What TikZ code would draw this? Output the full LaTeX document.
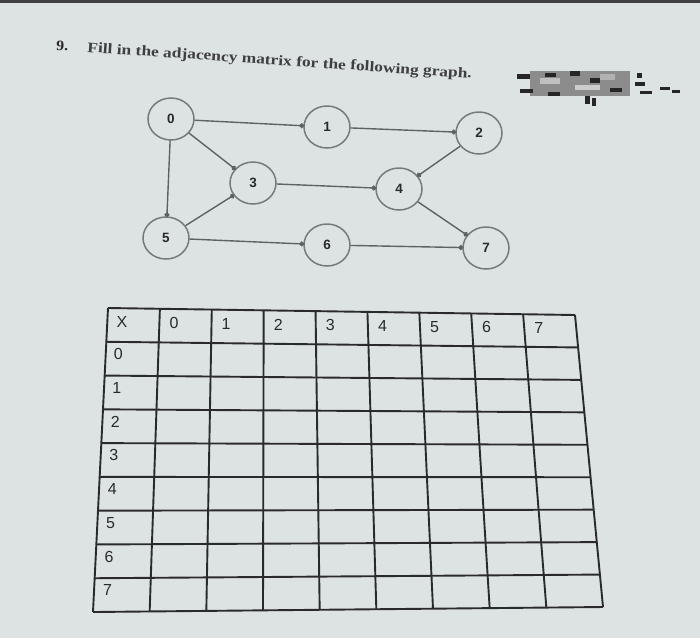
\documentclass[tikz,border=0pt]{standalone}
\usepackage{fontspec}
\setmainfont{Liberation Serif}
\setsansfont{Liberation Sans}
\usetikzlibrary{arrows.meta,shapes.geometric}
\definecolor{paper}{HTML}{DDE3E3}
\definecolor{ink}{HTML}{2A2A2A}
\definecolor{ringcol}{HTML}{767A7A}
\definecolor{edgecol}{HTML}{5E6262}
\begin{document}
\begin{tikzpicture}[x=1pt,y=-1pt,
  vert/.style={ellipse,draw=ringcol,line width=1.5pt,minimum width=46pt,minimum height=42pt,inner sep=0pt,
    font=\sffamily\bfseries\fontsize{13.5}{13.5}\selectfont,text=ink},
  arc/.style={draw=edgecol,line width=1.4pt,-{Circle[length=5pt]},shorten >=-1pt},
  grid/.style={draw=ink,line width=1.9pt},
  lab/.style={font=\sffamily\fontsize{16}{16}\selectfont,text=ink,inner sep=0pt},
  blk/.style={fill=black!85,draw=none},
  gblk/.style={fill=black!45,draw=none}]
\useasboundingbox (0,0) rectangle (700,638);
\fill[paper] (0,0) rectangle (700,638);
\fill[black!75] (0,0) rectangle (700,3);
% title
\node[anchor=base west,inner sep=0pt,font=\bfseries\fontsize{14.5}{14.5}\selectfont,text=ink,rotate=-2,xscale=1.1] (num) at (56,50) {9.};
\node[anchor=base west,inner sep=0pt,font=\bfseries\fontsize{14.5}{14.5}\selectfont,text=ink!90,rotate=-3.9,xscale=1.2] (title) at (87,52) {Fill in the adjacency matrix for the following graph.};
% redaction blob
\fill[gblk] (530,71) rectangle (630,96);
\fill[black!25] (540,78) rectangle (560,84);
\fill[black!20] (575,85) rectangle (600,90);
\fill[black!30] (600,74) rectangle (615,80);
\fill[blk] (517,74) rectangle (530,79);
\fill[blk] (545,73) rectangle (556,77);
\fill[blk] (570,71) rectangle (580,76);
\fill[blk] (590,78) rectangle (600,83);
\fill[blk] (610,88) rectangle (622,92);
\fill[blk] (520,89) rectangle (533,93);
\fill[blk] (548,92) rectangle (560,96);
\fill[blk] (635,82) rectangle (645,86);
\fill[blk] (640,91) rectangle (652,94);
\fill[blk] (660,87) rectangle (670,90);
\fill[blk] (672,90) rectangle (680,93);
\fill[blk] (637,73) rectangle (642,78);
\fill[blk] (585,96) rectangle (590,104);
\fill[blk] (592,98) rectangle (596,106);
% graph
\node[vert] (n0) at (171,119) {0};
\node[vert] (n1) at (327,127) {1};
\node[vert] (n2) at (479,133) {2};
\node[vert] (n3) at (253,183) {3};
\node[vert] (n4) at (399,189) {4};
\node[vert] (n5) at (166,238) {5};
\node[vert] (n6) at (327,245) {6};
\node[vert] (n7) at (486,248) {7};
\draw[arc] (n0) -- (n1);
\draw[arc] (n1) -- (n2);
\draw[arc] (n0) -- (n3);
\draw[arc] (n0) -- (n5);
\draw[arc] (n5) -- (n3);
\draw[arc] (n3) -- (n4);
\draw[arc] (n2) -- (n4);
\draw[arc] (n4) -- (n7);
\draw[arc] (n5) -- (n6);
\draw[arc] (n6) -- (n7);
% table grid (bilinear, photographed perspective)
\foreach \i in {0,...,9} {
  \foreach \j in {0,...,9} {
    \pgfmathsetmacro\u{\i/9}
    \pgfmathsetmacro\v{\j/9}
    \pgfmathsetmacro\px{(1-\v)*((1-\u)*108+\u*575)+\v*((1-\u)*93+\u*603)}
    \pgfmathsetmacro\py{(1-\v)*((1-\u)*308+\u*315)+\v*((1-\u)*612+\u*607)}
    \coordinate (P-\i-\j) at (\px,\py);
  }
}
\foreach \k in {0,...,9} {
  \draw[grid] (P-\k-0) -- (P-\k-9);
  \draw[grid] (P-0-\k) -- (P-9-\k);
}
% labels
\foreach \i/\t in {0/X,1/0,2/1,3/2,4/3,5/4,6/5,7/6,8/7} {
  \pgfmathsetmacro\u{(\i+0.28)/9}
  \pgfmathsetmacro\v{0.42/9}
  \pgfmathsetmacro\px{(1-\v)*((1-\u)*108+\u*575)+\v*((1-\u)*93+\u*603)}
  \pgfmathsetmacro\py{(1-\v)*((1-\u)*308+\u*315)+\v*((1-\u)*612+\u*607)}
  \node[lab] (h\i) at (\px,\py) {\t};
}
\foreach \j/\t in {1/0,2/1,3/2,4/3,5/4,6/5,7/6,8/7} {
  \pgfmathsetmacro\u{0.24/9}
  \pgfmathsetmacro\v{(\j+0.36)/9}
  \pgfmathsetmacro\px{(1-\v)*((1-\u)*108+\u*575)+\v*((1-\u)*93+\u*603)}
  \pgfmathsetmacro\py{(1-\v)*((1-\u)*308+\u*315)+\v*((1-\u)*612+\u*607)}
  \node[lab] (r\j) at (\px,\py) {\t};
}
\end{tikzpicture}
\end{document}
